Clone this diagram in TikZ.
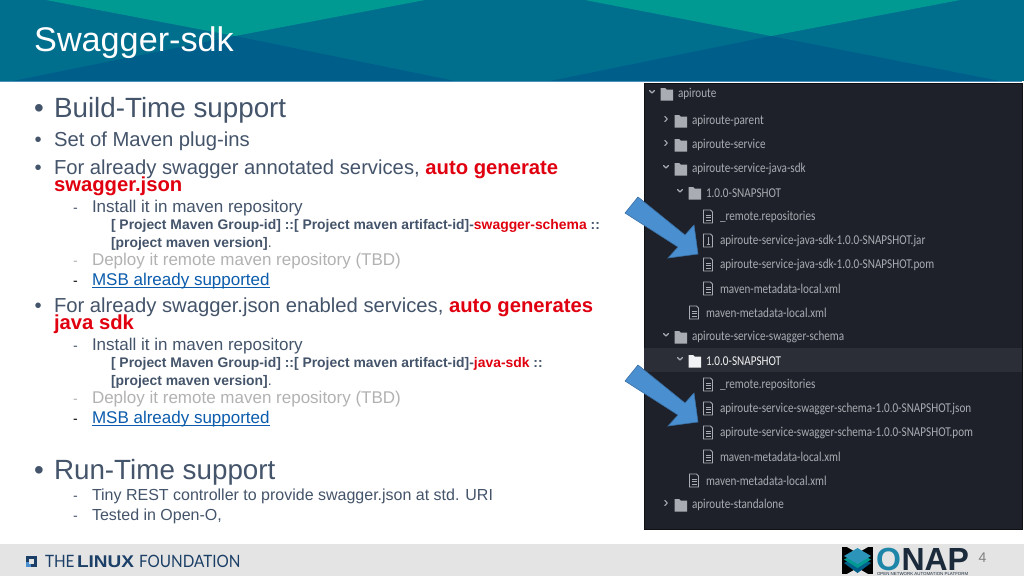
\documentclass[tikz,border=0pt]{standalone}
\usetikzlibrary{calc}
\usepackage{fontspec}
\setmainfont{Liberation Sans}
\newfontfamily\treefont[FakeStretch=0.826]{Carlito}
\newfontfamily\logofont{Lato}
\newfontfamily\logonarrow[FakeStretch=0.9]{Lato}
\newfontfamily\logowide[FakeStretch=1.12]{Liberation Sans}
\definecolor{bodytxt}{HTML}{44546A}
\definecolor{redtxt}{HTML}{E0000F}
\definecolor{greytxt}{HTML}{B2B2B2}
\definecolor{linktxt}{HTML}{0B5CAD}
\definecolor{hdmid}{HTML}{006F8E}
\definecolor{hdgreen}{HTML}{009A93}
\definecolor{hddark}{HTML}{005E8A}
\definecolor{hdline}{HTML}{4A90B8}
\definecolor{panel}{HTML}{1E2129}
\definecolor{panelhi}{HTML}{2B2E36}
\definecolor{paneledge}{HTML}{0F1115}
\definecolor{treetxt}{HTML}{A9ACB2}
\definecolor{arrowblue}{HTML}{4A90D0}
\definecolor{arrowedge}{HTML}{3A6FA5}
\definecolor{footbg}{HTML}{E4E4E4}
\definecolor{lfblue}{HTML}{1B3F66}
\definecolor{onapteal}{HTML}{1E86A8}
\definecolor{onapdark}{HTML}{1C2B3C}
\tikzset{
  x=1pt,y=-1pt,
  txt/.style={anchor=base west,inner sep=0pt,outer sep=0pt,text=bodytxt},
  big/.style={txt,font=\fontsize{27.8}{30}\selectfont},
  mid/.style={txt,font=\fontsize{20.25}{22}\selectfont},
  midred/.style={txt,text=redtxt,font=\fontsize{20.25}{22}\bfseries\selectfont},
  sub/.style={txt,font=\fontsize{17}{18}\selectfont},
  tiny/.style={txt,font=\fontsize{16}{17}\selectfont},
  sml/.style={txt,font=\fontsize{13.9}{15}\bfseries\selectfont},
  dashm/.style={txt,font=\fontsize{14}{15}\selectfont},
  tree/.style={anchor=west,inner sep=0pt,outer sep=0pt,yshift=-1pt,text=treetxt,font=\treefont\fontsize{13.5}{15}\selectfont},
  blockarrow/.style={fill=arrowblue,draw=arrowedge,line width=.6pt},
  chev/.style={draw=treetxt,line width=1.1pt,line cap=round,line join=round},
  iconline/.style={draw=treetxt,line width=.9pt},
  logotxt/.style={anchor=base west,inner sep=0pt,outer sep=0pt},
}
\newcommand{\folder}[3][treetxt]{%
  \fill[#1] (#2-5.5,#3-5) -- (#2-1,#3-5) -- (#2+.5,#3-3.5) -- (#2+7,#3-3.5) -- (#2+7,#3+7.5) -- (#2-5.5,#3+7.5) -- cycle;}
\newcommand{\chevdown}[2]{\draw[chev] (#1-2.5,#2-1.5) -- (#1,#2+1) -- (#1+2.5,#2-1.5);}
\newcommand{\chevright}[2]{\draw[chev] (#1-1.2,#2-2.5) -- (#1+1.3,#2) -- (#1-1.2,#2+2.5);}
\newcommand{\fileicon}[2]{%
  \draw[iconline] (#1-4.5,#2-6) -- (#1+2.5,#2-6) -- (#1+4.5,#2-4) -- (#1+4.5,#2+7) -- (#1-4.5,#2+7) -- cycle;
  \draw[iconline] (#1-2.5,#2-1) -- (#1+2.5,#2-1) (#1-2.5,#2+1.5) -- (#1+2.5,#2+1.5) (#1-2.5,#2+4) -- (#1+2.5,#2+4);}
\newcommand{\jaricon}[2]{%
  \draw[iconline] (#1-4.5,#2-6) -- (#1+2.5,#2-6) -- (#1+4.5,#2-4) -- (#1+4.5,#2+7) -- (#1-4.5,#2+7) -- cycle;
  \draw[iconline] (#1,#2-3.5) -- (#1,#2+4.5) (#1-1.5,#2+4.5) -- (#1+1.5,#2+4.5);}
\begin{document}
\begin{tikzpicture}
\useasboundingbox (0,0) rectangle (1024,576);
\fill[white] (0,0) rectangle (1024,576);
% header
\fill[hdmid] (0,0) rectangle (1024,81);
\fill[hdgreen] (46,0) -- (235,36) -- (425,0) -- cycle;
\fill[hdgreen] (585,0) -- (771,36) -- (960,0) -- cycle;
\fill[hddark] (13,81) -- (235,36) -- (455,81) -- cycle;
\fill[hddark] (550,81) -- (771,36) -- (1000,81) -- cycle;
\fill[hdline] (0,80.5) rectangle (1022,82);
\node[anchor=base west,inner sep=0pt,text=white,font=\fontsize{34.2}{38}\selectfont] (title) at (34,51) {Swagger-sdk};
% body text
\node[big] (b1) at (34,117) {•};
\node[big] (t1) at (54,117) {Build-Time support};
\node[mid] (b2) at (34.5,146) {•};
\node[mid] (t2) at (54,146) {Set of Maven plug-ins};
\node[mid] (b3) at (34.5,174) {•};
\node[mid] (t3) at (54,174) {For already swagger annotated services, \textcolor{redtxt}{\bfseries auto generate}};
\node[midred] (t3b) at (54,191) {swagger.json};
\node[dashm] (d1) at (73,212) {-};
\node[sub] (t4) at (92,212) {Install it in maven repository};
\node[sml] (t5) at (111,229) {[ Project Maven Group-id] ::[ Project maven artifact-id]-\textcolor{redtxt}{swagger-schema} ::};
\node[sml] (t6) at (111,247) {[project maven version]\textmd{.}};
\node[dashm,text=greytxt] (d2) at (73,265) {-};
\node[sub,text=greytxt] (t7) at (92,265) {Deploy it remote maven repository (TBD)};
\node[dashm,text=black] (d3) at (73,285) {-};
\node[sub,text=linktxt] (t8) at (92,285) {MSB already supported};
\draw[linktxt,line width=.8pt] ($(t8.base west)+(0,2)$) -- ($(t8.base east)+(0,2)$);
\node[mid] (b4) at (34.5,312) {•};
\node[mid] (t9) at (54,312) {For already swagger.json enabled services, \textcolor{redtxt}{\bfseries auto generates}};
\node[midred] (t9b) at (54,329) {java sdk};
\node[dashm] (d4) at (73,350) {-};
\node[sub] (t10) at (92,350) {Install it in maven repository};
\node[sml] (t11) at (111,367) {[ Project Maven Group-id] ::[ Project maven artifact-id]-\textcolor{redtxt}{java-sdk} ::};
\node[sml] (t12) at (111,385) {[project maven version]\textmd{.}};
\node[dashm,text=greytxt] (d5) at (73,403) {-};
\node[sub,text=greytxt] (t13) at (92,403) {Deploy it remote maven repository (TBD)};
\node[dashm,text=black] (d6) at (73,423) {-};
\node[sub,text=linktxt] (t14) at (92,423) {MSB already supported};
\draw[linktxt,line width=.8pt] ($(t14.base west)+(0,2)$) -- ($(t14.base east)+(0,2)$);
\node[big] (b5) at (34,479) {•};
\node[big] (t15) at (54,479) {Run-Time support};
\node[dashm] (d7) at (73,500) {-};
\node[tiny] (t16) at (92,500) {Tiny REST controller to provide swagger.json at std. URI};
\node[dashm] (d8) at (73,520) {-};
\node[tiny] (t17) at (92,520) {Tested in Open-O,};
% tree panel
\filldraw[fill=panel,draw=paneledge,line width=.8pt] (644,83) rectangle (1022,529.5);
\fill[panelhi] (644.4,347.5) rectangle (1021.6,372);
\chevdown{652}{92}\folder{666}{93}
\node[tree] (n0) at (678,93) {apiroute};
\chevright{666}{119}\folder{680}{120}
\node[tree] (n1) at (692,120) {apiroute-parent};
\chevright{666}{143}\folder{680}{144}
\node[tree] (n2) at (692,144) {apiroute-service};
\chevdown{666}{167}\folder{680}{168}
\node[tree] (n3) at (692,168) {apiroute-service-java-sdk};
\chevdown{680}{191}\folder{694}{192}
\node[tree] (n4) at (706,192) {1.0.0-SNAPSHOT};
\fileicon{708}{216}
\node[tree] (n5) at (720,216) {\_remote.repositories};
\jaricon{708}{240}
\node[tree] (n6) at (720,240) {apiroute-service-java-sdk-1.0.0-SNAPSHOT.jar};
\fileicon{708}{264}
\node[tree] (n7) at (720,264) {apiroute-service-java-sdk-1.0.0-SNAPSHOT.pom};
\fileicon{708}{288}
\node[tree] (n8) at (720,288) {maven-metadata-local.xml};
\fileicon{694}{312}
\node[tree] (n9) at (706,312) {maven-metadata-local.xml};
\chevdown{666}{335}\folder{680}{336}
\node[tree] (n10) at (692,336) {apiroute-service-swagger-schema};
\chevdown{680}{359}\folder[white!85!treetxt]{694}{360}
\node[tree,text=white!85!treetxt] (n11) at (706,360) {1.0.0-SNAPSHOT};
\fileicon{708}{384}
\node[tree] (n12) at (720,384) {\_remote.repositories};
\fileicon{708}{408}
\node[tree] (n13) at (720,408) {apiroute-service-swagger-schema-1.0.0-SNAPSHOT.json};
\fileicon{708}{432}
\node[tree] (n14) at (720,432) {apiroute-service-swagger-schema-1.0.0-SNAPSHOT.pom};
\fileicon{708}{456}
\node[tree] (n15) at (720,456) {maven-metadata-local.xml};
\fileicon{694}{480}
\node[tree] (n16) at (706,480) {maven-metadata-local.xml};
\chevright{666}{503}\folder{680}{504}
\node[tree] (n17) at (692,504) {apiroute-standalone};
% arrows
\draw[blockarrow] (625,213) -- (638,197) -- (685,235) -- (694,225) -- (698,254) -- (668,258) -- (678,247) -- cycle;
\draw[blockarrow] (625,381) -- (638,365) -- (685,403) -- (694,393) -- (698,422) -- (668,426) -- (678,415) -- cycle;
% footer
\fill[footbg] (0,544) rectangle (1024,576);
\fill[lfblue] (26,556) rectangle (36.5,567);
\fill[footbg] (29,559) rectangle (34,564);
\fill[arrowblue] (26,562) rectangle (31,567);
\fill[footbg] (29,560.5) rectangle (32,564);
\node[logotxt,text=lfblue,font=\logonarrow\fontsize{17}{20}\selectfont] (lf1) at (45,567) {THE};
\node[logotxt,text=lfblue,font=\logowide\fontsize{17}{20}\bfseries\selectfont] (lf2) at (77,567) {LINUX};
\node[logotxt,text=lfblue,font=\logonarrow\fontsize{17}{20}\selectfont] (lf3) at (139,567) {FOUNDATION};
% ONAP
\fill[black] (842,547) -- (873,547) -- (873,574) -- (842,574) -- cycle;
\fill[footbg] (847,547) -- (857.5,553) -- (868,547) -- cycle;
\fill[footbg] (847,574) -- (857.5,568) -- (868,574) -- cycle;
\fill[hddark] (857.5,556) -- (871,563) -- (857.5,573) -- (844,563) -- cycle;
\fill[hdgreen] (857.5,552) -- (871,559.5) -- (857.5,568) -- (844,559.5) -- cycle;
\fill[arrowblue!60!hdgreen] (857.5,548) -- (871,556) -- (857.5,564) -- (844,556) -- cycle;
\node[logotxt,text=onapteal,font=\fontsize{32}{34}\bfseries\selectfont] (on1) at (876,570) {O};
\node[logotxt,text=onapdark,font=\fontsize{32}{34}\bfseries\selectfont] (on2) at (901.5,570) {NAP};
\node[logotxt,text=onapdark,font=\fontsize{4.4}{5}\selectfont] (on3) at (877,575) {OPEN NETWORK AUTOMATION PLATFORM};
\node[logotxt,text=gray,font=\fontsize{14}{15}\selectfont] (pg) at (978.5,562) {4};
\end{tikzpicture}
\end{document}
